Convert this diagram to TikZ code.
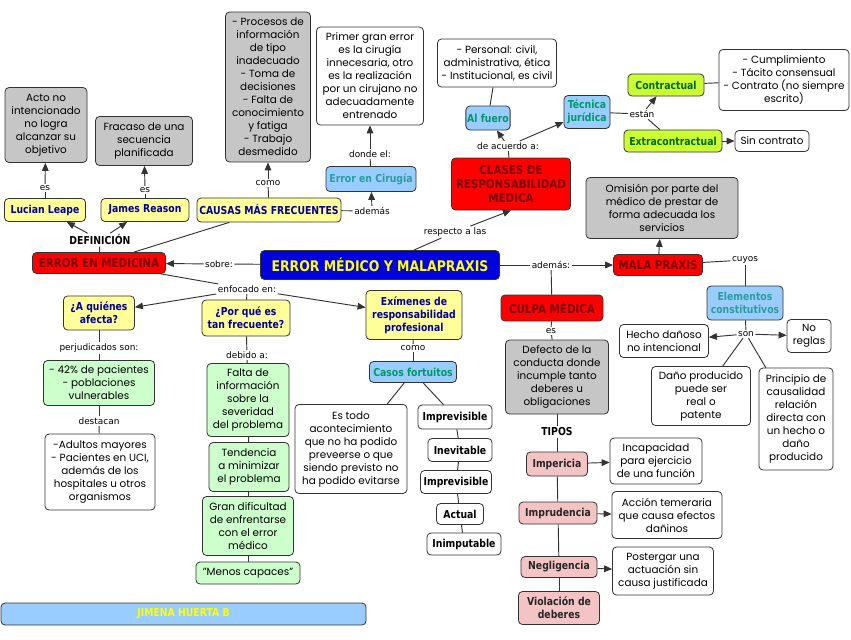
\documentclass[tikz,border=0pt]{standalone}
\usepackage{fontspec}
\setmainfont{Poppins}
\newfontfamily\bxf{DejaVu Sans}[FakeStretch=0.85]
\newfontfamily\lkf{DejaVu Sans}
\usetikzlibrary{arrows.meta}
\definecolor{cgray}{HTML}{C6C6C6}
\definecolor{cyel}{HTML}{FFFF99}
\definecolor{cdblue}{HTML}{000099}
\definecolor{cred}{HTML}{FF0000}
\definecolor{cdred}{HTML}{7A0000}
\definecolor{cblue}{HTML}{99CCFF}
\definecolor{cgtxt}{HTML}{009966}
\definecolor{cteal}{HTML}{2E9C9C}
\definecolor{clime}{HTML}{CCFF33}
\definecolor{cdgreen}{HTML}{006600}
\definecolor{cgreen}{HTML}{CCFFCC}
\definecolor{cpink}{HTML}{F4C4C4}
\definecolor{cmain}{HTML}{0000DD}
\definecolor{cytxt}{HTML}{FFFF00}
\definecolor{cline}{HTML}{333333}
\newcommand\rtext{\fontsize{7.8}{9.75}\selectfont}
\newcommand\btext{\bxf\bfseries\fontsize{8.2}{9.8}\selectfont}
\newcommand\ttext{\bxf\bfseries\fontsize{9.1}{10.6}\selectfont}
\newcommand\ltext{\lkf\fontsize{6.7}{8}\selectfont}
\tikzset{
  base/.style={draw=cline, rounded corners=3pt, line width=0.6pt, align=center, inner sep=1pt},
  sz/.style 2 args={minimum width=#1*0.75pt, minimum height=#2*0.75pt},
  grayb/.style={base, fill=cgray, font=\rtext},
  whiteb/.style={base, fill=white, font=\rtext},
  greenb/.style={base, fill=cgreen, font=\rtext},
  wboldb/.style={base, fill=white, font=\btext},
  yelb/.style={base, fill=cyel, text=cdblue, font=\btext},
  redb/.style={base, fill=cred, text=cdred, font=\ttext},
  blueb/.style={base, fill=cblue, text=cgtxt, font=\btext},
  tealb/.style={base, fill=cblue, text=cteal, font=\btext},
  limeb/.style={base, fill=clime, text=cdgreen, font=\btext},
  pinkb/.style={base, fill=cpink, text=black!85, font=\btext},
  lk/.style={font=\ltext, inner sep=1pt},
  lkb/.style={font=\btext, inner sep=1pt},
  con/.style={draw=cline, line width=0.7pt},
  arr/.style={con, -{Triangle[length=6pt,width=5pt]}}
}
\begin{document}
\begin{tikzpicture}[x=0.75pt,y=-0.75pt]
\fill[white] (0,0) rectangle (851,640);
\useasboundingbox (0,0) rectangle (851,640);
% concepts
\node[grayb, sz={82}{75}] (acto) at (46,125) {Acto no\\intencionado\\no logra\\alcanzar su\\objetivo};
\node[grayb, sz={97}{49}] (fracaso) at (144,141) {Fracaso de una\\secuencia\\planificada};
\node[grayb, sz={85}{150}] (procesos) at (268,87) {- Procesos de\\información\\de tipo\\inadecuado\\- Toma de\\decisiones\\- Falta de\\conocimiento\\y fatiga\\- Trabajo\\desmedido};
\node[whiteb, sz={107}{98}] (primer) at (370,76) {Primer gran error\\es la cirugía\\innecesaria, otro\\es la realización\\por un cirujano no\\adecuadamente\\entrenado};
\node[whiteb, sz={119}{48}] (personal) at (497,63) {- Personal: civil,\\administrativa, ética\\- Institucional, es civil};
\node[blueb, sz={43}{24}] (alfuero) at (488,118) {Al fuero};
\node[blueb, sz={46}{33}] (tecnica) at (587,112) {Técnica\\jurídica};
\node[limeb, sz={76}{22}] (contractual) at (666,85) {Contractual};
\node[whiteb, sz={130}{61}] (cumpl) at (784,80) {- Cumplimiento\\- Tácito consensual\\- Contrato (no siempre\\escrito)};
\node[limeb, sz={98}{22}] (extra) at (673,141) {Extracontractual};
\node[whiteb, sz={74}{21}] (sincon) at (772,141) {Sin contrato};
\node[redb, sz={119}{52}] (clases) at (511,184) {CLASES DE\\RESPONSABILIDAD\\MÉDICA};
\node[grayb, sz={152}{61}] (omision) at (662,208) {Omisión por parte del\\médico de prestar de\\forma adecuada los\\servicios};
\node[yelb, sz={81}{23}] (lucian) at (45,210) {Lucian Leape};
\node[yelb, sz={88}{23}] (james) at (145,210) {James Reason};
\node[yelb, sz={144}{24}] (causas) at (269,210) {CAUSAS MÁS FRECUENTES};
\node[tealb, sz={90}{25}] (cirugia) at (371,179) {Error en Cirugía};
\node[redb, sz={133}{21}] (errmed) at (99,263) {ERROR EN MEDICINA};
\node[base, fill=cmain, text=cytxt, font=\bxf\bfseries\fontsize{11}{13}\selectfont, sz={239}{29}] (errmp) at (380,265) {ERROR MÉDICO Y MALAPRAXIS};
\node[redb, sz={89}{21}] (malapraxis) at (658,265) {MALA PRAXIS};
\node[yelb, sz={71}{34}] (afecta) at (99,313) {¿A quiénes\\afecta?};
\node[yelb, sz={88}{36}] (porque) at (246,318) {¿Por qué es\\tan frecuente?};
\node[yelb, sz={96}{49}] (eximenes) at (414,315) {Exímenes de\\responsabilidad\\profesional};
\node[redb, sz={102}{26}] (culpa) at (552,308) {CULPA MÉDICA};
\node[tealb, sz={76}{34}] (elementos) at (745,303) {Elementos\\constitutivos};
\node[whiteb, sz={89}{33}] (hecho) at (664,341) {Hecho dañoso\\no intencional};
\node[whiteb, sz={44}{33}] (noreglas) at (809,336) {No\\reglas};
\node[whiteb, sz={99}{59}] (dano) at (701,396) {Daño producido\\puede ser\\real o\\patente};
\node[whiteb, sz={74}{102}] (principio) at (796,419) {Principio de\\causalidad\\relación\\directa con\\un hecho o\\daño\\producido};
\node[greenb, sz={111}{45}] (pacientes) at (99,383) {- 42\% de pacientes\\- poblaciones\\vulnerables};
\node[whiteb, sz={110}{76}] (adultos) at (100,472) {-Adultos mayores\\- Pacientes en UCI,\\además de los\\hospitales u otros\\organismos};
\node[greenb, sz={82}{73}] (falta) at (248,400) {Falta de\\información\\sobre la\\severidad\\del problema};
\node[greenb, sz={80}{49}] (tendencia) at (249,467) {Tendencia\\a minimizar\\el problema};
\node[greenb, sz={91}{59}] (gran) at (248,526) {Gran dificultad\\de enfrentarse\\con el error\\médico};
\node[greenb, sz={104}{22}] (menos) at (248,573) {"Menos capaces"};
\node[blueb, sz={87}{21}] (casos) at (413,372) {Casos fortuitos};
\node[whiteb, sz={112}{89}] (estodo) at (351,449) {Es todo\\acontecimiento\\que no ha podido\\preveerse o que\\siendo previsto no\\ha podido evitarse};
\node[wboldb, sz={74}{24}] (imprev1) at (455,417) {Imprevisible};
\node[wboldb, sz={64}{23}] (inevitable) at (460,450) {Inevitable};
\node[wboldb, sz={71}{23}] (imprev2) at (456,482) {Imprevisible};
\node[wboldb, sz={47}{21}] (actual) at (460,514) {Actual};
\node[wboldb, sz={74}{22}] (inimputable) at (464,544) {Inimputable};
\node[grayb, sz={103}{74}] (defecto) at (557,377) {Defecto de la\\conducta donde\\incumple tanto\\deberes u\\obligaciones};
\node[pinkb, sz={61}{24}] (impericia) at (557,464) {Impericia};
\node[pinkb, sz={78}{22}] (imprudencia) at (558,513) {Imprudencia};
\node[pinkb, sz={76}{21}] (negligencia) at (559,567) {Negligencia};
\node[pinkb, sz={81}{33}] (violacion) at (559,608) {Violación de\\deberes};
\node[whiteb, sz={92}{46}] (incapacidad) at (656,461) {Incapacidad\\para ejercicio\\de una función};
\node[whiteb, sz={110}{47}] (accion) at (667,515) {Acción temeraria\\que causa efectos\\dañinos};
\node[whiteb, sz={101}{48}] (postergar) at (663,571) {Postergar una\\actuación sin\\causa justificada};
\node[base, fill=cblue, text=cytxt, font=\btext, sz={365}{22}] (banner) at (183.5,614) {JIMENA HUERTA B};
% linking phrases
\node[lk] (es1) at (45,188) {es};
\node[lk] (es2) at (145,190) {es};
\node[lk] (como1) at (268,183) {como};
\node[lk] (donde) at (370,154) {donde el:};
\node[lk] (ademas1) at (372,211) {además};
\node[lkb] (def) at (100,240) {DEFINICIÓN};
\node[lk] (sobre) at (219,264) {sobre:};
\node[lk] (enfocado) at (247,289) {enfocado en:};
\node[lk] (respecto) at (455,232) {respecto a las};
\node[lk] (deacuerdo) at (508,146) {de acuerdo a:};
\node[lk] (estan) at (642,114) {están};
\node[lk] (ademas2) at (551,265) {además:};
\node[lk] (cuyos) at (745,260) {cuyos};
\node[lk] (son) at (746,334) {son};
\node[lk] (perjud) at (99,348) {perjudicados son:};
\node[lk] (destacan) at (99,421) {destacan};
\node[lk] (debido) at (247,355) {debido a:};
\node[lk] (como2) at (413,348) {como};
\node[lk] (es3) at (551,331) {es};
\node[lkb] (tipos) at (557,432) {TIPOS};
% connectors
\draw[con] (lucian) -- (es1); \draw[arr] (es1) -- (acto);
\draw[con] (james) -- (es2); \draw[arr] (es2) -- (fracaso);
\draw[con] (causas) -- (como1); \draw[arr] (como1) -- (procesos);
\draw[con] (cirugia) -- (donde); \draw[arr] (donde) -- (primer);
\draw[con] (causas) -- (ademas1); \draw[arr] (ademas1) -- (cirugia);
\draw[con] (errmed) -- (def); \draw[arr] (def) -- (lucian); \draw[arr] (def) -- (james);
\draw[con] (errmed) -- (causas);
\draw[con] (errmp) -- (sobre); \draw[arr] (sobre) -- (errmed);
\draw[con] (errmed) -- (enfocado);
\draw[arr] (enfocado) -- (afecta);
\draw[con] (enfocado) -- (porque);
\draw[arr] (enfocado) -- (eximenes);
\draw[con] (errmp) -- (respecto); \draw[arr] (respecto) -- (clases.south);
\draw[con] (clases) -- (deacuerdo);
\draw[arr] (deacuerdo) -- (alfuero); \draw[arr] (deacuerdo) -- (tecnica);
\draw[con] (alfuero) -- (personal);
\draw[con] (tecnica) -- (estan);
\draw[arr] (estan) -- (contractual); \draw[con] (estan) -- (extra);
\draw[con] (contractual) -- (cumpl);
\draw[arr] (extra) -- (sincon);
\draw[con] (errmp) -- (ademas2); \draw[arr] (ademas2) -- (malapraxis);
\draw[con] (ademas2) -- (culpa);
\draw[arr] (malapraxis) -- (omision);
\draw[con] (malapraxis) -- (cuyos); \draw[con] (cuyos) -- (elementos);
\draw[con] (elementos) -- (son);
\draw[arr] (son) -- (hecho); \draw[arr] (son) -- (noreglas);
\draw[con] (son) -- (dano); \draw[con] (son) -- (principio);
\draw[con] (afecta) -- (perjud); \draw[con] (perjud) -- (pacientes);
\draw[con] (pacientes) -- (destacan); \draw[con] (destacan) -- (adultos);
\draw[con] (porque) -- (debido); \draw[con] (debido) -- (falta);
\draw[con] (falta) -- (tendencia); \draw[con] (tendencia) -- (gran); \draw[con] (gran) -- (menos);
\draw[con] (eximenes) -- (como2); \draw[con] (como2) -- (casos);
\draw[con] (casos) -- (estodo); \draw[con] (casos) -- (imprev1);
\draw[con] (imprev1) -- (inevitable); \draw[con] (inevitable) -- (imprev2);
\draw[con] (imprev2) -- (actual); \draw[con] (actual) -- (inimputable);
\draw[con] (culpa) -- (es3); \draw[con] (es3) -- (defecto);
\draw[con] (defecto) -- (tipos); \draw[con] (tipos) -- (impericia);
\draw[con] (impericia) -- (imprudencia); \draw[con] (imprudencia) -- (negligencia); \draw[con] (negligencia) -- (violacion);
\draw[arr] (impericia) -- (incapacidad);
\draw[arr] (imprudencia) -- (accion);
\draw[arr] (negligencia) -- (postergar);
\end{tikzpicture}
\end{document}
